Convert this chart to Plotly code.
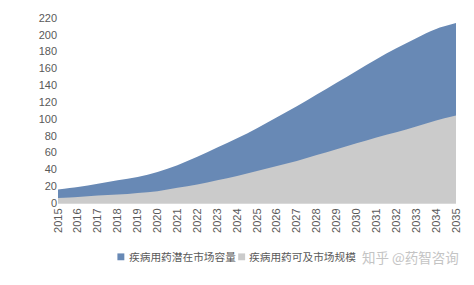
import plotly.graph_objects as go

years = [str(y) for y in range(2015, 2036)]
potential = [16, 19, 23, 27, 31, 37, 45, 55, 66, 77, 89, 102, 115, 129, 143, 157, 171, 184, 196, 207, 214]
accessible = [6, 7, 9, 10, 12, 14, 18, 22, 27, 32, 38, 44, 50, 57, 64, 71, 78, 84, 91, 98, 104]
series_names = ["疾病用药潜在市场容量", "疾病用药可及市场规模"]
colors = ["#6889b5", "#cbcbcb"]
yticks = list(range(0, 221, 20))

W, H = 474, 285
L, R, T, B = 58, 14, 14, 82
pw, ph = W - L - R, H - T - B


def px(x):
    return (x - L) / pw


def py(y):
    return (H - B - y) / ph


fig = go.Figure()
for vals, name, col in zip([potential, accessible], series_names, colors):
    fig.add_trace(go.Scatter(x=years, y=vals, name=name, mode="lines",
                             line=dict(width=0, shape="spline", color=col),
                             fill="tozeroy", fillcolor=col, showlegend=False))

# manual legend (small square markers like the reference)
legend_items = [(118, 128), (240, 249)]
shapes, annos = [], []
for (sx, tx), name, col in zip(legend_items, series_names, colors):
    shapes.append(dict(type="rect", xref="paper", yref="paper",
                       x0=px(sx), x1=px(sx + 7), y0=py(261.5), y1=py(254.5),
                       fillcolor=col, line=dict(width=0)))
    annos.append(dict(text=name, xref="paper", yref="paper", x=px(tx), y=py(258),
                      xanchor="left", yanchor="middle", showarrow=False,
                      font=dict(family="Noto Sans CJK SC", size=10.7, color="#595959")))
annos.append(dict(text="知乎 @药智咨询", xref="paper", yref="paper",
                  x=px(363), y=py(258), xanchor="left", yanchor="middle", showarrow=False,
                  font=dict(family="Noto Sans CJK SC", size=13.5, color="#c4c4c4")))

fig.update_layout(
    width=W, height=H,
    margin=dict(l=L, r=R, t=T, b=B),
    paper_bgcolor="white", plot_bgcolor="white",
    font=dict(family="Liberation Sans, Noto Sans CJK SC", size=11, color="#595959"),
    showlegend=False,
    xaxis=dict(type="category", range=[0, 20], tickangle=-90, showgrid=False,
               showline=True, linecolor="#d9d9d9", ticks="", tickfont=dict(size=11)),
    yaxis=dict(range=[0, 220], tickvals=yticks, showgrid=False, zeroline=False,
               showline=False, ticks="", tickfont=dict(size=11)),
    shapes=shapes,
    annotations=annos,
)

fig.write_html("out.html")
